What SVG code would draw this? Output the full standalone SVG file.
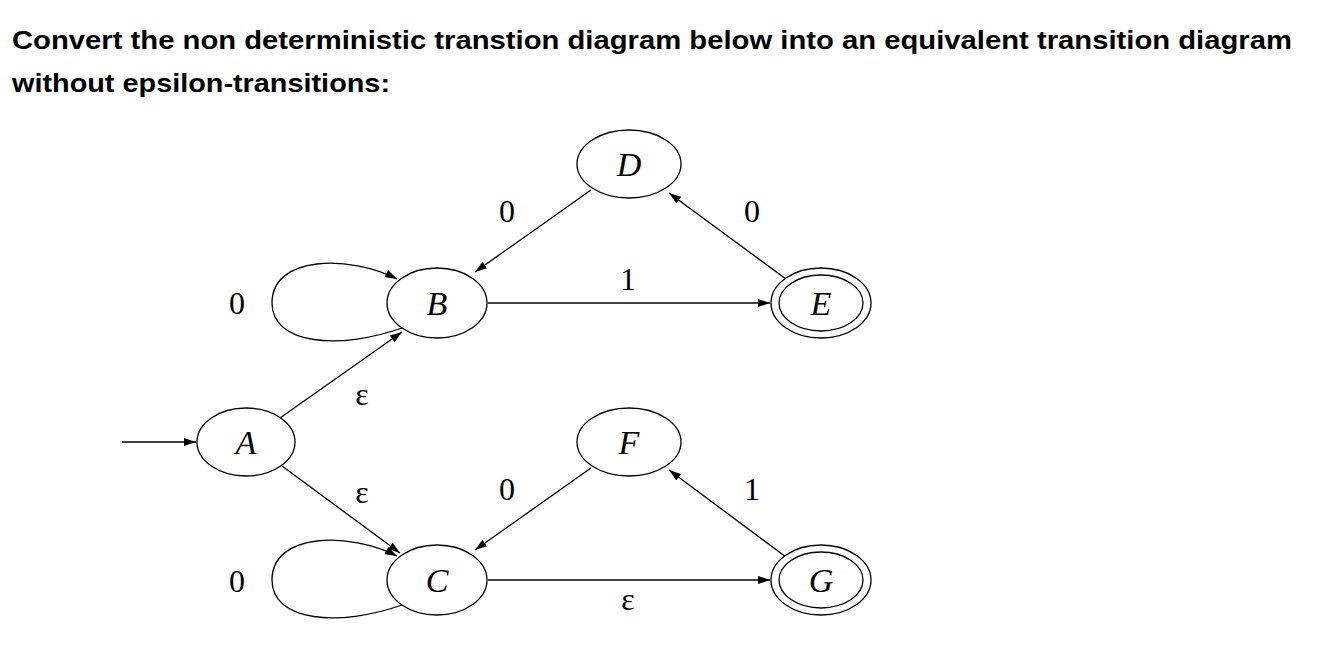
<svg xmlns="http://www.w3.org/2000/svg" width="1336" height="652" viewBox="0 0 1336 652">
<style>
.t{font-family:"Liberation Sans",Arial,sans-serif;font-weight:bold;font-size:26px;fill:#000}
.n{fill:#fff;stroke:#000;stroke-width:1.3}
.l{font-family:"Liberation Serif","DejaVu Serif",serif;font-style:italic;font-size:34px;text-anchor:middle;fill:#000}
.d{font-family:"Liberation Serif","DejaVu Serif",serif;font-size:32px;text-anchor:middle;fill:#000}
.e{fill:none;stroke:#000;stroke-width:1.3;marker-end:url(#ah)}
</style>
<defs><marker id="ah" viewBox="0 0 12 8" refX="12" refY="4" markerWidth="12" markerHeight="8" markerUnits="userSpaceOnUse" orient="auto"><path d="M0,0L12,4L0,8z" fill="#000"/></marker></defs>
<rect width="1336" height="652" fill="#fff"/>
<text class="t" x="12" y="49" textLength="1280" lengthAdjust="spacingAndGlyphs">Convert the non deterministic transtion diagram below into an equivalent transition diagram</text>
<text class="t" x="12" y="92" textLength="378" lengthAdjust="spacingAndGlyphs">without epsilon-transitions:</text>
<g id="edges">
<path class="e" d="M122,442H196"/>
<path class="e" d="M402,328C340,350 272,345 272,303C272,255 350,255 397,279"/>
<path class="e" d="M280,418L402,332"/>
<path class="e" d="M591,190L475,272"/>
<path class="e" d="M786,279L669,193"/>
<path class="e" d="M488,303H770"/>
<path class="e" d="M282,466L400,553"/>
<path class="e" d="M402,605C340,627 272,622 272,580C272,532 350,532 397,556"/>
<path class="e" d="M591,468L475,550"/>
<path class="e" d="M786,557L669,470"/>
<path class="e" d="M488,580H770"/>
<text class="d" x="237" y="314">0</text>
<text class="d" x="237" y="592">0</text>
<text class="d" x="362" y="405">ε</text>
<text class="d" x="362" y="503">ε</text>
<text class="d" x="507" y="222">0</text>
<text class="d" x="752" y="222">0</text>
<text class="d" x="628" y="290">1</text>
<text class="d" x="507" y="500">0</text>
<text class="d" x="752" y="500">1</text>
<text class="d" x="628" y="610">ε</text>
</g>
<g id="A"><ellipse class="n" cx="246" cy="442" rx="49" ry="34"/><text class="l" x="246" y="454">A</text></g>
<g id="B"><ellipse class="n" cx="437" cy="303" rx="50" ry="35"/><text class="l" x="437" y="315">B</text></g>
<g id="C"><ellipse class="n" cx="437" cy="580" rx="50" ry="35"/><text class="l" x="437" y="592">C</text></g>
<g id="D"><ellipse class="n" cx="629" cy="164" rx="52" ry="34"/><text class="l" x="629" y="176">D</text></g>
<g id="F"><ellipse class="n" cx="629" cy="442" rx="52" ry="34"/><text class="l" x="629" y="454">F</text></g>
<g id="E"><ellipse class="n" cx="821" cy="303" rx="50" ry="35"/><ellipse class="n" cx="821" cy="303" rx="42" ry="28"/><text class="l" x="821" y="315">E</text></g>
<g id="G"><ellipse class="n" cx="821" cy="580" rx="50" ry="35"/><ellipse class="n" cx="821" cy="580" rx="42" ry="28"/><text class="l" x="821" y="592">G</text></g>
</svg>
